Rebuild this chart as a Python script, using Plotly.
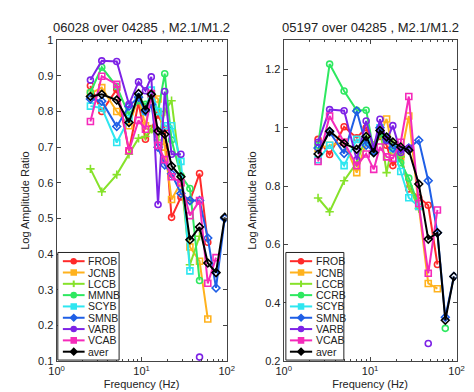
import plotly.graph_objects as go

# ---------------- data ----------------
freq_left = [2.5, 3.4, 5.1, 7.1, 9.2, 11.1, 13, 15.6, 18.7, 22.5, 29, 37, 48, 60, 75, 95]
freq_right = [2.5, 3.4, 5.0, 7.0, 9.0, 11.0, 13, 15.5, 18.3, 22.6, 28, 36.5, 47, 60, 74, 93]

title_left = "06028 over 04285 , M2.1/M1.2"
title_right = "05197 over 04285 , M2.1/M1.2"

names_left = ["FROB", "JCNB", "LCCB", "MMNB", "SCYB", "SMNB", "VARB", "VCAB", "aver"]
names_right = ["FROB", "JCNB", "LCCB", "CCRB", "SCYB", "SMNB", "VARB", "VCAB", "aver"]

N = None
FROB_L = [0.872, 0.80, 0.862, 0.69, 0.825, 0.722, 0.752, 0.79, 0.752, 0.503, 0.56, 0.55, 0.626, 0.433, N, N]
JCNB_L = [0.85, 0.867, 0.80, 0.76, 0.84, 0.76, 0.85, 0.835, 0.70, 0.553, 0.60, 0.42, 0.38, 0.218, N, N]
LCCB_L = [0.639, 0.575, 0.623, 0.68, 0.725, 0.73, 0.75, 0.72, 0.80, 0.83, 0.62, 0.37, 0.45, N, N, N]
MMNB_L = [0.854, 0.924, 0.87, 0.79, 0.83, 0.82, 0.84, 0.80, 0.906, 0.72, 0.62, 0.584, 0.326, N, N, N]
SCYB_L = [0.815, 0.81, 0.713, 0.78, 0.84, 0.80, 0.86, 0.80, 0.76, 0.76, 0.66, 0.353, N, N, N, N]
SMNB_L = [0.835, 0.829, 0.758, 0.815, 0.84, 0.80, 0.82, 0.70, 0.65, 0.625, 0.57, 0.55, 0.55, 0.445, 0.305, 0.50]
VARB_L = [0.888, 0.942, 0.94, 0.82, 0.883, 0.858, 0.897, 0.539, 0.856, 0.68, 0.68, N, 0.111, N, N, N]
VCAB_L = [0.772, 0.899, 0.876, 0.69, 0.775, 0.75, 0.85, 0.705, 0.665, 0.617, 0.60, 0.508, 0.55, 0.318, 0.39, N]
AVER_L = [0.842, 0.848, 0.832, 0.769, 0.85, 0.804, 0.848, 0.745, 0.736, 0.647, 0.617, 0.44, 0.476, 0.375, 0.348, 0.503]

FROB_R = [0.96, 0.908, 1.003, 0.965, 1.0, 0.94, 0.97, 0.94, 0.87, 0.905, 0.79, 0.76, 0.734, 0.531, N, N]
JCNB_R = [0.93, 0.94, 0.95, 0.846, 0.95, 0.93, 0.98, 1.03, 0.92, 0.90, 1.04, 0.73, 0.466, 0.448, N, N]
LCCB_R = [0.759, 0.712, 0.818, 0.88, 0.97, 0.94, 1.0, 0.846, 0.95, 0.90, 0.80, 0.723, N, N, N, N]
CCRB_R = [0.94, 1.218, 1.126, 1.06, 1.06, 0.92, 0.98, 0.97, 0.93, 0.88, 0.827, 0.73, N, N, 0.312, N]
SCYB_R = [0.89, 0.94, 0.87, 0.96, 0.95, 0.92, 1.0, 0.96, 0.93, 0.85, 0.76, 0.73, N, N, N, N]
SMNB_R = [0.93, 0.985, 0.912, 1.057, 0.94, 0.92, 1.0, 0.96, 0.93, 0.925, 0.93, 0.957, 0.818, 0.64, 0.35, 0.49]
VARB_R = [0.95, 1.062, 1.058, 0.89, 1.023, 0.93, 1.029, 0.955, 1.007, 0.915, 0.93, N, 0.26, N, N, N]
VCAB_R = [0.884, 1.04, 0.95, 0.87, 0.91, 0.857, 0.934, 0.90, 0.895, 0.95, 1.107, 0.74, 0.501, 0.718, N, N]
AVER_R = [0.91, 0.988, 0.946, 0.926, 0.97, 0.914, 0.99, 0.968, 0.951, 0.934, 0.923, 0.807, 0.618, 0.64, 0.34, 0.49]

left_series = [FROB_L, JCNB_L, LCCB_L, MMNB_L, SCYB_L, SMNB_L, VARB_L, VCAB_L, AVER_L]
right_series = [FROB_R, JCNB_R, LCCB_R, CCRB_R, SCYB_R, SMNB_R, VARB_R, VCAB_R, AVER_R]

colors = ["#ff2a2a", "#ffb21e", "#86e22a", "#2ee860", "#2ee6f0", "#1f5fe6", "#7d22e6", "#f52aba", "#000000"]
symbols = ["circle-open", "square-open", "cross-thin-open", "circle-open", "square-open",
           "diamond-open", "circle-open", "square-open", "diamond-open"]

x_tickvals = [1, 10, 100]
x_ticktext = ["10<sup>0</sup>", "10<sup>1</sup>", "10<sup>2</sup>"]
x_minor = [2, 3, 4, 5, 6, 7, 8, 9, 20, 30, 40, 50, 60, 70, 80, 90]
y_left_ticks = [0.1, 0.2, 0.3, 0.4, 0.5, 0.6, 0.7, 0.8, 0.9, 1.0]
y_right_ticks = [0.2, 0.4, 0.6, 0.8, 1.0, 1.2]

# ---------------- figure ----------------
W, H = 474, 392
fig = go.Figure()


def add_series(freqs, names, series, xa, ya):
    for i, (nm, ys) in enumerate(zip(names, series)):
        fig.add_trace(go.Scatter(
            x=freqs, y=ys, name=nm, mode="lines+markers", showlegend=False,
            line=dict(color=colors[i], width=2),
            marker=dict(symbol=symbols[i], size=6, color=colors[i],
                        line=dict(width=1.6, color=colors[i])),
            xaxis=xa, yaxis=ya, connectgaps=False))


add_series(freq_left, names_left, left_series, "x", "y")
add_series(freq_right, names_right, right_series, "x2", "y2")

ydom = [1 - 358 / H, 1 - 27 / H]
xdom_l = [42 / W, 218 / W]
xdom_r = [277 / W, 456 / W]

axis_common = dict(showgrid=False, zeroline=False, showline=True, linecolor="#444", linewidth=1,
                   mirror="ticks", ticks="inside", ticklen=4, tickcolor="#444",
                   tickfont=dict(size=11, color="#222"))

xaxis_common = dict(type="log", range=[0, 2], tickvals=x_tickvals, ticktext=x_ticktext,
                    minor=dict(tickvals=x_minor, ticks="inside", ticklen=2, tickcolor="#444"),
                    title=dict(text="Frequency (Hz)", font=dict(size=11, color="#222"), standoff=4),
                    **axis_common)

# ---------------- compact legend (layout shapes/annotations, in pixels) ----------------
shapes = []
annotations = []


def px(x):
    return x / W


def py(y):
    return 1 - y / H


def add_legend(names, box_x0, box_x1, line_x0, line_x1, text_x, box_y0=246, box_y1=357,
               first_y=255, step=11.67):
    shapes.append(dict(type="rect", xref="paper", yref="paper",
                       x0=px(box_x0), x1=px(box_x1), y0=py(box_y1), y1=py(box_y0),
                       line=dict(color="#222", width=1), fillcolor="white", layer="above"))
    mx = (line_x0 + line_x1) / 2
    for i, nm in enumerate(names):
        yc = first_y + i * step
        c = colors[i]
        shapes.append(dict(type="line", xref="paper", yref="paper",
                           x0=px(line_x0), x1=px(line_x1), y0=py(yc), y1=py(yc),
                           line=dict(color=c, width=2), layer="above"))
        r = 2.6
        sym = symbols[i]
        if sym.startswith("circle"):
            shapes.append(dict(type="circle", xref="paper", yref="paper",
                               x0=px(mx - r), x1=px(mx + r), y0=py(yc + r), y1=py(yc - r),
                               line=dict(color=c, width=1.5), fillcolor=c, layer="above"))
        elif sym.startswith("square"):
            shapes.append(dict(type="rect", xref="paper", yref="paper",
                               x0=px(mx - r), x1=px(mx + r), y0=py(yc + r), y1=py(yc - r),
                               line=dict(color=c, width=1.5), fillcolor=c, layer="above"))
        elif sym.startswith("diamond"):
            rr = r + 0.8
            path = "M {} {} L {} {} L {} {} L {} {} Z".format(
                px(mx), py(yc - rr), px(mx + rr), py(yc), px(mx), py(yc + rr), px(mx - rr), py(yc))
            shapes.append(dict(type="path", xref="paper", yref="paper", path=path,
                               line=dict(color=c, width=1.5), fillcolor=c, layer="above"))
        else:
            rr = r + 0.8
            shapes.append(dict(type="line", xref="paper", yref="paper",
                               x0=px(mx), x1=px(mx), y0=py(yc - rr), y1=py(yc + rr),
                               line=dict(color=c, width=2), layer="above"))
        annotations.append(dict(text=nm, x=px(text_x), y=py(yc), xref="paper", yref="paper",
                                showarrow=False, xanchor="left", yanchor="middle",
                                font=dict(size=10.5, color="#222")))


add_legend(names_left, 43.3, 106.7, 48.5, 71, 72.3)
add_legend(names_right, 279.3, 339.3, 283.5, 306.5, 308.3)

annotations += [
    dict(text=title_left, x=(xdom_l[0] + xdom_l[1]) / 2, y=1 - 14 / H, xref="paper", yref="paper",
         showarrow=False, font=dict(size=13, color="#222"), xanchor="center", yanchor="middle"),
    dict(text=title_right, x=(xdom_r[0] + xdom_r[1]) / 2, y=1 - 14 / H, xref="paper", yref="paper",
         showarrow=False, font=dict(size=13, color="#222"), xanchor="center", yanchor="middle"),
]

fig.update_layout(
    width=W, height=H,
    margin=dict(l=0, r=0, t=0, b=0),
    paper_bgcolor="white", plot_bgcolor="white",
    font=dict(family="Liberation Sans, Arial, sans-serif", color="#222"),
    showlegend=False,
    xaxis=dict(domain=xdom_l, anchor="y", **xaxis_common),
    yaxis=dict(domain=ydom, anchor="x", range=[0.1, 1.0], tickvals=y_left_ticks,
               ticktext=["0.1", "0.2", "0.3", "0.4", "0.5", "0.6", "0.7", "0.8", "0.9", "1"],
               title=dict(text="Log Amplitude Ratio", font=dict(size=11, color="#222"), standoff=6),
               **axis_common),
    xaxis2=dict(domain=xdom_r, anchor="y2", **xaxis_common),
    yaxis2=dict(domain=ydom, anchor="x2", range=[0.2, 1.3], tickvals=y_right_ticks,
                ticktext=["0.2", "0.4", "0.6", "0.8", "1", "1.2"],
                title=dict(text="Log Amplitude Ratio", font=dict(size=11, color="#222"), standoff=6),
                **axis_common),
    shapes=shapes,
    annotations=annotations,
)

fig.write_html("out.html")
